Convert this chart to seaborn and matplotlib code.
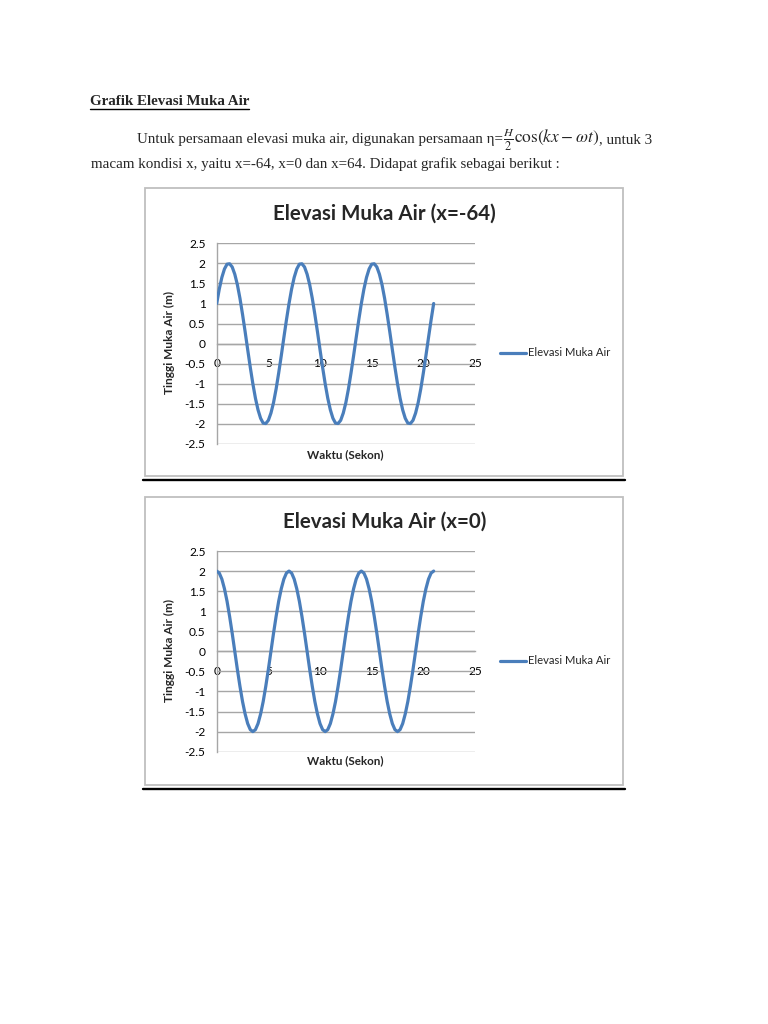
import numpy as np
import pandas as pd
import matplotlib
matplotlib.use("Agg")
import matplotlib.pyplot as plt
import seaborn as sns
from matplotlib.patches import Rectangle
from matplotlib.lines import Line2D

waktu = [
    0, 0.25, 0.5, 0.75, 1, 1.25, 1.5, 1.75, 2, 2.25, 2.5, 2.75,
    3, 3.25, 3.5, 3.75, 4, 4.25, 4.5, 4.75, 5, 5.25, 5.5, 5.75,
    6, 6.25, 6.5, 6.75, 7, 7.25, 7.5, 7.75, 8, 8.25, 8.5, 8.75,
    9, 9.25, 9.5, 9.75, 10, 10.25, 10.5, 10.75, 11, 11.25, 11.5, 11.75,
    12, 12.25, 12.5, 12.75, 13, 13.25, 13.5, 13.75, 14, 14.25, 14.5, 14.75,
    15, 15.25, 15.5, 15.75, 16, 16.25, 16.5, 16.75, 17, 17.25, 17.5, 17.75,
    18, 18.25, 18.5, 18.75, 19, 19.25, 19.5, 19.75, 20, 20.25, 20.5, 20.75,
    21,
]

elevasi_x_min64 = [
    1.00, 1.36, 1.65, 1.86, 1.98, 1.99, 1.91, 1.73, 1.47, 1.13, 0.73, 0.30,
    -0.15, -0.59, -1.00, -1.36, -1.65, -1.86, -1.98, -1.99, -1.91, -1.73, -1.47, -1.13,
    -0.73, -0.30, 0.15, 0.59, 1.00, 1.36, 1.65, 1.86, 1.98, 1.99, 1.91, 1.73,
    1.47, 1.13, 0.73, 0.30, -0.15, -0.59, -1.00, -1.36, -1.65, -1.86, -1.98, -1.99,
    -1.91, -1.73, -1.47, -1.13, -0.73, -0.30, 0.15, 0.59, 1.00, 1.36, 1.65, 1.86,
    1.98, 1.99, 1.91, 1.73, 1.47, 1.13, 0.73, 0.30, -0.15, -0.59, -1.00, -1.36,
    -1.65, -1.86, -1.98, -1.99, -1.91, -1.73, -1.47, -1.13, -0.73, -0.30, 0.15, 0.59,
    1.00,
]

elevasi_x_0 = [
    2.00, 1.95, 1.80, 1.56, 1.25, 0.87, 0.45, 0.00, -0.45, -0.87, -1.25, -1.56,
    -1.80, -1.95, -2.00, -1.95, -1.80, -1.56, -1.25, -0.87, -0.45, 0.00, 0.45, 0.87,
    1.25, 1.56, 1.80, 1.95, 2.00, 1.95, 1.80, 1.56, 1.25, 0.87, 0.45, 0.00,
    -0.45, -0.87, -1.25, -1.56, -1.80, -1.95, -2.00, -1.95, -1.80, -1.56, -1.25, -0.87,
    -0.45, 0.00, 0.45, 0.87, 1.25, 1.56, 1.80, 1.95, 2.00, 1.95, 1.80, 1.56,
    1.25, 0.87, 0.45, 0.00, -0.45, -0.87, -1.25, -1.56, -1.80, -1.95, -2.00, -1.95,
    -1.80, -1.56, -1.25, -0.87, -0.45, 0.00, 0.45, 0.87, 1.25, 1.56, 1.80, 1.95,
    2.00,
]

judul_chart = ["Elevasi Muka Air (x=-64)", "Elevasi Muka Air (x=0)"]
nama_seri = "Elevasi Muka Air"
x_ticks = [0, 5, 10, 15, 20, 25]
y_ticks = [-2.5, -2, -1.5, -1, -0.5, 0, 0.5, 1, 1.5, 2, 2.5]
y_tick_labels = ["-2.5", "-2", "-1.5", "-1", "-0.5", "0", "0.5", "1", "1.5", "2", "2.5"]

sns.set_style("white")
plt.rcParams['font.family'] = ['Lato', 'DejaVu Sans']
plt.rcParams['axes.unicode_minus'] = False
plt.rcParams['mathtext.fontset'] = 'stix'

W, H = 768, 1024
fig = plt.figure(figsize=(7.68, 10.24), dpi=100)
fig.patch.set_facecolor("white")
renderer = fig.canvas.get_renderer()


def fx(px):
    return px / W


def fy(py):
    return 1 - py / H


def right_edge(txt):
    return txt.get_window_extent(renderer=renderer).x1 / W


# Document text
serif = ['Liberation Serif', 'DejaVu Serif']
doc_size = 10.8
heading = fig.text(fx(90), fy(105), "Grafik Elevasi Muka Air", family=serif,
                   weight="bold", size=doc_size, va="baseline")
part1 = fig.text(fx(136.7), fy(143),
                 "Untuk persamaan elevasi muka air, digunakan persamaan η=",
                 family=serif, size=doc_size, va="baseline")
part2 = fig.text(right_edge(part1), fy(143), r"$\frac{H}{2}\cos(kx-\omega t)$",
                 size=12.5, va="baseline")
fig.text(right_edge(part2), fy(143), ", untuk 3",
         family=serif, size=doc_size, va="baseline")
fig.text(fx(90.7), fy(168),
         "macam kondisi x, yaitu x=-64, x=0 dan x=64. Didapat grafik sebagai berikut :",
         family=serif, size=doc_size, va="baseline")

# Chart layout (pixel positions on the page)
boxes = [(188, 476), (497, 785)]
plot_area = [(243.3, 444), (551, 751.7)]
title_y = [213.5, 522]
xlabel_y = [454.3, 761]
ylabel_y = [342.5, 650.8]
legend_y = [353, 661]
series = [elevasi_x_min64, elevasi_x_0]

grid_color = "#a6a6a6"
line_color = "#4a7ebb"

for i in range(2):
    top, bottom = boxes[i]
    fig.patches.append(Rectangle((fx(145), fy(bottom)), (623 - 145) / W, (bottom - top) / H,
                                 transform=fig.transFigure, fill=False,
                                 ec="#bfbfbf", lw=1.3))
    fig.lines.append(Line2D([fx(143), fx(625)], [fy(bottom + 3.5)] * 2,
                            transform=fig.transFigure, color="black", lw=1.7))

    ptop, pbot = plot_area[i]
    ax = fig.add_axes([fx(216.7), fy(pbot), (475 - 216.7) / W, (pbot - ptop) / H])
    df = pd.DataFrame({"Waktu": waktu, "Elevasi": series[i]})
    sns.lineplot(data=df, x="Waktu", y="Elevasi", ax=ax, color=line_color,
                 linewidth=2.3, label=nama_seri, zorder=3)

    ax.set_xlim(0, 25)
    ax.set_ylim(-2.5, 2.5)
    ax.set_xticks(x_ticks)
    ax.set_yticks(y_ticks)
    ax.set_yticklabels(y_tick_labels)
    ax.set_xlabel("")
    ax.set_ylabel("")
    ax.yaxis.grid(True, color=grid_color, lw=1)
    ax.xaxis.grid(False)
    ax.set_facecolor("white")
    ax.spines['top'].set_visible(False)
    ax.spines['right'].set_visible(False)
    ax.spines['bottom'].set_position(('data', 0))
    ax.spines['bottom'].set_color(grid_color)
    ax.spines['left'].set_color(grid_color)
    ax.spines['bottom'].set_linewidth(1)
    ax.spines['left'].set_linewidth(1)
    ax.tick_params(axis='both', length=0, labelsize=8.6, colors='black')
    ax.tick_params(axis='y', pad=8)
    ax.tick_params(axis='x', pad=10.5)

    ax.legend(loc='center left', bbox_to_anchor=(fx(500), fy(legend_y[i])),
              bbox_transform=fig.transFigure, frameon=False, borderpad=0,
              borderaxespad=0, handlelength=2.3, handletextpad=0.2, fontsize=8.1)

    fig.text(fx(384.4), fy(title_y[i]), judul_chart[i], ha="center", va="center",
             weight="bold", size=14.8)
    fig.text(fx(345.5), fy(xlabel_y[i]), "Waktu (Sekon)", ha="center", va="center",
             weight="bold", size=8.4)
    fig.text(fx(169), fy(ylabel_y[i]), "Tinggi Muka Air (m)", ha="center", va="center",
             rotation=90, weight="bold", size=8.6)

# Underline the heading
fig.canvas.draw()
bb = heading.get_window_extent(renderer=fig.canvas.get_renderer())
fig.lines.append(Line2D([bb.x0 / W, bb.x1 / W], [fy(109)] * 2,
                        transform=fig.transFigure, color="black", lw=1))

fig.savefig("out.png", dpi=100, facecolor="white")
